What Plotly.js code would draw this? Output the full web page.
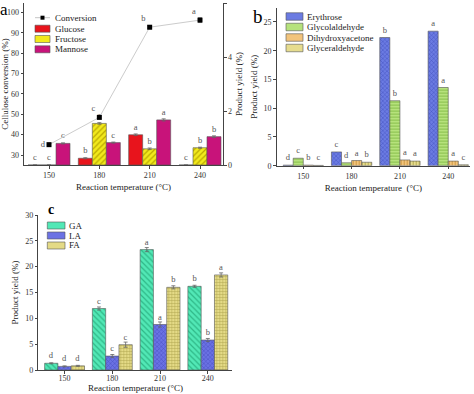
<!DOCTYPE html>
<html><head><meta charset="utf-8">
<script src="https://cdn.plot.ly/plotly-3.0.1.min.js"></script>
<style>html,body{margin:0;padding:0;background:#fff}#chart{width:474px;height:394px}</style>
</head><body><div id="chart"></div>
<script>
// ---------- data ----------
const temps = ['150', '180', '210', '240'];
// panel a
const conversion = [35.1, 48.5, 92.8, 96.3];
const conversionErr = [0.6, 0.8, 0.8, 1.2];
const conversionLetters = ['d', 'c', 'b', 'a'];
const glucose = [0, 0.25, 1.12, 0];
const fructose = [0, 1.54, 0.60, 0.64];
const mannose = [0.80, 0.83, 1.67, 1.05];
const glucoseErr = [0, 0.02, 0.03, 0];
const fructoseErr = [0, 0.03, 0.03, 0.02];
const mannoseErr = [0.02, 0.02, 0.04, 0.03];
const glucoseLetters = ['c', 'b', 'a', 'c'];
const fructoseLetters = ['c', 'a', 'b', 'b'];
const mannoseLetters = ['c', 'c', 'a', 'b'];
// panel b
const erythrose = [0.1, 2.4, 22.3, 23.4];
const glycolaldehyde = [1.3, 0.5, 11.3, 13.6];
const dihydroxyacetone = [0.1, 0.9, 1.0, 0.8];
const glyceraldehyde = [0.05, 0.6, 0.8, 0.15];
const erythroseLetters = ['d', 'c', 'b', 'a'];
const glycolaldehydeLetters = ['c', 'd', 'b', 'a'];
const dihydroxyacetoneLetters = ['b', 'a', 'a', 'a'];
const glyceraldehydeLetters = ['c', 'b', 'a', 'c'];
// panel c
const ga = [1.3, 11.9, 23.3, 16.2];
const la = [0.7, 2.7, 8.8, 5.8];
const fa = [0.8, 4.9, 16.0, 18.4];
const gaErr = [0.1, 0.3, 0.4, 0.2];
const laErr = [0.1, 0.3, 0.5, 0.3];
const faErr = [0.1, 0.5, 0.3, 0.4];
const gaLetters = ['d', 'c', 'a', 'b'];
const laLetters = ['d', 'c', 'a', 'b'];
const faLetters = ['d', 'c', 'b', 'a'];

// ---------- helpers ----------
const F = 'Liberation Serif, Times New Roman, serif';
const W = 474, H = 394;
const px = x => x / W, py = y => 1 - y / H;
const txtFont = {family: F, size: 8.5, color: '#555'};

function barTrace(name, y, err, letters, xa, ya, color, pat) {
  const t = {
    type: 'bar', name: name, x: temps, y: y, xaxis: xa, yaxis: ya,
    text: letters, textposition: 'outside', textfont: txtFont, cliponaxis: false,
    marker: {color: color, line: {color: '#555', width: 0.6}},
    showlegend: false, hoverinfo: 'skip'
  };
  if (pat) t.marker.pattern = Object.assign({fillmode: 'replace', bgcolor: color}, pat);
  if (err) t.error_y = {type: 'data', array: err, visible: true, color: '#666', thickness: 0.8, width: 2};
  return t;
}

const data = [
  barTrace('Glucose', glucose, glucoseErr, glucoseLetters, 'x', 'y', '#e8141c'),
  barTrace('Fructose', fructose, fructoseErr, fructoseLetters, 'x', 'y', '#f2ea1c',
    {shape: '/', fgcolor: '#b9a800', size: 4, solidity: 0.3}),
  barTrace('Mannose', mannose, mannoseErr, mannoseLetters, 'x', 'y', '#c8137a'),
  {
    type: 'scatter', name: 'Conversion', x: temps, y: conversion, xaxis: 'x', yaxis: 'y2',
    mode: 'lines+markers+text', line: {color: '#cccccc', width: 1},
    marker: {symbol: 'square', size: 5, color: '#000'},
    text: conversionLetters, textposition: ['middle left', 'top left', 'top left', 'top left'],
    textfont: txtFont, cliponaxis: false,
    error_y: {type: 'data', array: conversionErr, visible: true, color: '#888', thickness: 0.8, width: 2},
    showlegend: false, hoverinfo: 'skip'
  },
  barTrace('Erythrose', erythrose, null, erythroseLetters, 'x2', 'y3', '#6b7be2',
    {shape: 'x', fgcolor: '#4452c0', size: 3, solidity: 0.3}),
  barTrace('Glycolaldehyde', glycolaldehyde, null, glycolaldehydeLetters, 'x2', 'y3', '#b6e27c',
    {shape: '-', fgcolor: '#88bf4c', size: 3, solidity: 0.35}),
  barTrace('Dihydroxyacetone', dihydroxyacetone, null, dihydroxyacetoneLetters, 'x2', 'y3', '#f2c47c',
    {shape: '|', fgcolor: '#cf9a44', size: 3, solidity: 0.35}),
  barTrace('Glyceraldehyde', glyceraldehyde, null, glyceraldehydeLetters, 'x2', 'y3', '#e6dc8e',
    {shape: '|', fgcolor: '#b6ab52', size: 3, solidity: 0.35}),
  barTrace('GA', ga, gaErr, gaLetters, 'x3', 'y4', '#52e8b6',
    {shape: '\\', fgcolor: '#2fb888', size: 4, solidity: 0.3}),
  barTrace('LA', la, laErr, laLetters, 'x3', 'y4', '#6b72e4',
    {shape: 'x', fgcolor: '#474dc2', size: 3, solidity: 0.3}),
  barTrace('FA', fa, faErr, faLetters, 'x3', 'y4', '#e4da86',
    {shape: '+', fgcolor: '#b0a650', size: 3, solidity: 0.3})
];

const axBase = {
  showline: true, linecolor: '#444', linewidth: 1, ticks: 'outside', ticklen: 2.5,
  tickcolor: '#444', tickwidth: 1, tickfont: {family: F, size: 8, color: '#333'},
  showgrid: false, zeroline: false, fixedrange: true
};
const titleFont = {family: F, size: 9, color: '#222'};
const xTitle = (t) => ({text: t, font: titleFont, standoff: 4});

const layout = {
  width: W, height: H, margin: {l: 0, r: 0, t: 0, b: 0},
  paper_bgcolor: '#fff', plot_bgcolor: 'rgba(0,0,0,0)',
  barmode: 'group', bargap: 0.165, bargroupgap: 0,
  showlegend: false, font: {family: F},
  xaxis: Object.assign({}, axBase, {type: 'category', domain: [px(24), px(223)], range: [-0.497, 3.457],
    anchor: 'y', title: xTitle('Reaction temperature (°C)')}),
  yaxis: Object.assign({}, axBase, {domain: [py(165), py(3)], range: [0, 6], tickvals: [0, 2, 4, 6],
    side: 'right', anchor: 'x', title: {text: 'Product yield (%)', font: titleFont, standoff: 4}}),
  yaxis2: Object.assign({}, axBase, {range: [25.1, 104.7], tick0: 30, dtick: 10, side: 'left',
    overlaying: 'y', anchor: 'x', title: {text: 'Cellulose conversion (%)', font: titleFont, standoff: 1}}),
  xaxis2: Object.assign({}, axBase, {type: 'category', domain: [px(276.7), px(470)], range: [-0.55, 3.45],
    anchor: 'y3', title: xTitle('Reaction temperature\u00a0 (°C)')}),
  yaxis3: Object.assign({}, axBase, {domain: [py(165.7), py(7.6)], range: [0, 27.5], dtick: 5,
    anchor: 'x2', title: {text: 'Product yield (%)', font: titleFont, standoff: 4}}),
  xaxis3: Object.assign({}, axBase, {type: 'category', domain: [px(38.3), px(231.7)], range: [-0.55, 3.5],
    anchor: 'y4', ticklabelstandoff: -2}),
  yaxis4: Object.assign({}, axBase, {domain: [py(370), py(215)], range: [0, 30], dtick: 5,
    anchor: 'x3', title: {text: 'Product yield (%)', font: titleFont, standoff: 5}}),
  shapes: [], annotations: []
};

// x title of panel c (placed as annotation so it is not pushed into the tick labels at the page edge)
layout.annotations.push({text: 'Reaction temperature (°C)', x: px(135), y: py(394), xref: 'paper', yref: 'paper',
  xanchor: 'center', yanchor: 'bottom', showarrow: false, font: titleFont, borderpad: 0});

// panel letters
layout.annotations.push(
  {text: 'a', x: px(-1), y: py(-1), xref: 'paper', yref: 'paper', xanchor: 'left', yanchor: 'top',
   showarrow: false, font: {family: F, size: 17, color: '#000'}, borderpad: 0},
  {text: 'b', x: px(251), y: py(16), xref: 'paper', yref: 'paper', xanchor: 'left', yanchor: 'middle',
   showarrow: false, font: {family: F, size: 19, color: '#000'}},
  {text: '<b>c</b>', x: px(45.5), y: py(209), xref: 'paper', yref: 'paper', xanchor: 'left', yanchor: 'middle',
   showarrow: false, font: {family: F, size: 14, color: '#000'}}
);

// hand-built compact legends
function legItem(x0, x1, yc, h, color, label, tx) {
  layout.shapes.push({type: 'rect', xref: 'paper', yref: 'paper', x0: px(x0), x1: px(x1),
    y0: py(yc + h / 2), y1: py(yc - h / 2), fillcolor: color, line: {color: '#555', width: 0.6}});
  layout.annotations.push({text: label, x: px(tx), y: py(yc), xref: 'paper', yref: 'paper',
    xanchor: 'left', yanchor: 'middle', showarrow: false, font: {family: F, size: 9, color: '#222'}});
}
// legend a
layout.shapes.push({type: 'line', xref: 'paper', yref: 'paper', x0: px(35), x1: px(50), y0: py(17.7), y1: py(17.7),
  line: {color: '#c4c4c4', width: 1}});
layout.shapes.push({type: 'rect', xref: 'paper', yref: 'paper', x0: px(40.5), x1: px(44.5), y0: py(19.7), y1: py(15.7),
  fillcolor: '#000', line: {width: 0}});
layout.annotations.push({text: 'Conversion', x: px(53), y: py(17.7), xref: 'paper', yref: 'paper',
  xanchor: 'left', yanchor: 'middle', showarrow: false, font: {family: F, size: 9, color: '#222'}});
legItem(35, 50, 28.7, 7, '#e8141c', 'Glucose', 53);
legItem(35, 50, 39, 7, '#f2ea1c', 'Fructose', 53);
legItem(35, 50, 49.3, 7, '#c8137a', 'Mannose', 53);
// legend b
legItem(286, 303, 16.5, 7.5, '#6b7be2', 'Erythrose', 305);
legItem(286, 303, 27, 7.5, '#b6e27c', 'Glycolaldehyde', 305);
legItem(286, 303, 37.5, 7.5, '#f2c47c', 'Dihydroxyacetone', 305);
legItem(286, 303, 48, 7.5, '#e6dc8e', 'Glyceraldehyde', 305);
// legend c
legItem(47.3, 65, 225.5, 7, '#52e8b6', 'GA', 67);
legItem(47.3, 65, 235.5, 7, '#6b72e4', 'LA', 67);
legItem(47.3, 65, 245.5, 7, '#e4da86', 'FA', 67);

Plotly.newPlot('chart', data, layout, {displayModeBar: false, staticPlot: true});
</script></body></html>
